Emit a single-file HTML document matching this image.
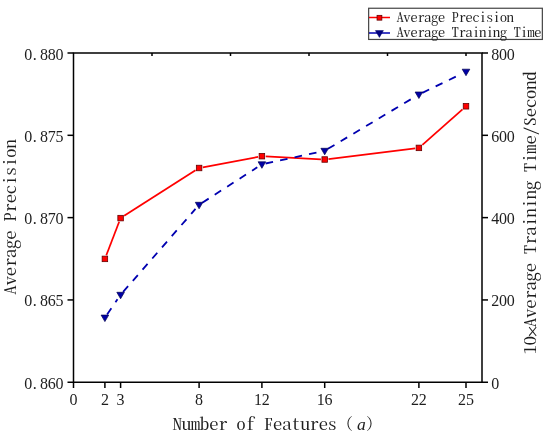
<!DOCTYPE html><html><head><meta charset="utf-8"><style>html,body{margin:0;padding:0;background:#fff;overflow:hidden}svg{display:block}text{fill:#1e1e1e}.lib{font-family:'Liberation Serif',serif}.hw{font-family:'Noto Serif CJK SC',serif;font-feature-settings:'hwid' 1}.cjk{font-family:'Noto Serif CJK SC',serif;font-feature-settings:normal}.it{font-family:'Liberation Serif',serif;font-style:italic;font-feature-settings:normal}.tm{font-family:'Liberation Serif',serif;font-feature-settings:normal}</style></head><body>
<svg width="550" height="436" viewBox="0 0 550 436">
<rect width="550" height="436" fill="#fff"/>
<g stroke="#000" stroke-width="1.5" fill="none">
<path d="M73.50 53.00 H482.00 V382.25 H73.50 Z"/>
<path d="M67.5 382.25 H73.50"/>
<path d="M67.5 299.94 H73.50"/>
<path d="M67.5 217.62 H73.50"/>
<path d="M67.5 135.31 H73.50"/>
<path d="M67.5 53.00 H73.50"/>
<path d="M482.00 382.25 H488"/>
<path d="M482.00 299.94 H488"/>
<path d="M482.00 217.62 H488"/>
<path d="M482.00 135.31 H488"/>
<path d="M482.00 53.00 H488"/>
<path d="M73.50 382.25 V388"/>
<path d="M104.90 382.25 V388"/>
<path d="M120.60 382.25 V388"/>
<path d="M199.10 382.25 V388"/>
<path d="M261.90 382.25 V388"/>
<path d="M324.70 382.25 V388"/>
<path d="M418.90 382.25 V388"/>
<path d="M466.00 382.25 V388"/>
<path d="M152.00 53.00 V56"/>
<path d="M230.50 53.00 V56"/>
<path d="M309.00 53.00 V56"/>
<path d="M387.50 53.00 V56"/>
<path d="M466.00 53.00 V56"/>
</g>
<text class="lib" x="24.30 32.80 39.90 47.70 55.50" y="388.75" font-size="16">0.860</text>
<text class="lib" x="24.30 32.80 39.90 47.70 55.50" y="306.44" font-size="16">0.865</text>
<text class="lib" x="24.30 32.80 39.90 47.70 55.50" y="224.12" font-size="16">0.870</text>
<text class="lib" x="24.30 32.80 39.90 47.70 55.50" y="141.81" font-size="16">0.875</text>
<text class="lib" x="24.30 32.80 39.90 47.70 55.50" y="59.50" font-size="16">0.880</text>
<text class="lib" x="491.20" y="388.75" font-size="16">0</text>
<text class="lib" x="491.20 499.00 506.80" y="306.44" font-size="16">200</text>
<text class="lib" x="491.20 499.00 506.80" y="224.12" font-size="16">400</text>
<text class="lib" x="491.20 499.00 506.80" y="141.81" font-size="16">600</text>
<text class="lib" x="491.20 499.00 506.80" y="59.50" font-size="16">800</text>
<text class="lib" x="69.50" y="405.10" font-size="16">0</text>
<text class="lib" x="100.90" y="405.10" font-size="16">2</text>
<text class="lib" x="116.60" y="405.10" font-size="16">3</text>
<text class="lib" x="195.10" y="405.10" font-size="16">8</text>
<text class="lib" x="254.00 261.80" y="405.10" font-size="16">12</text>
<text class="lib" x="316.80 324.60" y="405.10" font-size="16">16</text>
<text class="lib" x="411.00 418.80" y="405.10" font-size="16">22</text>
<text class="lib" x="458.10 465.90" y="405.10" font-size="16">25</text>
<path d="M106.32 255.22 L119.18 221.78" fill="none" stroke="#ff0000" stroke-width="1.75"/>
<path d="M124.19 215.81 L195.51 170.29" fill="none" stroke="#ff0000" stroke-width="1.75"/>
<path d="M202.83 167.30 L258.17 156.90" fill="none" stroke="#ff0000" stroke-width="1.75"/>
<path d="M265.65 156.40 L320.95 159.30" fill="none" stroke="#ff0000" stroke-width="1.75"/>
<path d="M328.44 159.04 L415.16 148.36" fill="none" stroke="#ff0000" stroke-width="1.75"/>
<path d="M422.40 144.81 L462.50 109.39" fill="none" stroke="#ff0000" stroke-width="1.75"/>
<rect x="102.15" y="256.15" width="5.5" height="5.5" fill="#ff0000" stroke="#600" stroke-width="0.8"/>
<rect x="117.85" y="215.35" width="5.5" height="5.5" fill="#ff0000" stroke="#600" stroke-width="0.8"/>
<rect x="196.35" y="165.25" width="5.5" height="5.5" fill="#ff0000" stroke="#600" stroke-width="0.8"/>
<rect x="259.15" y="153.45" width="5.5" height="5.5" fill="#ff0000" stroke="#600" stroke-width="0.8"/>
<rect x="321.95" y="156.75" width="5.5" height="5.5" fill="#ff0000" stroke="#600" stroke-width="0.8"/>
<rect x="416.15" y="145.15" width="5.5" height="5.5" fill="#ff0000" stroke="#600" stroke-width="0.8"/>
<rect x="463.25" y="103.55" width="5.5" height="5.5" fill="#ff0000" stroke="#600" stroke-width="0.8"/>
<path d="M107.06 314.47 L117.48 299.33" fill="none" stroke="#0000b0" stroke-width="1.8" stroke-dasharray="7.6 7.2"/>
<path d="M123.10 291.94 L195.48 208.94" fill="none" stroke="#0000b0" stroke-width="1.8" stroke-dasharray="7.6 7.2"/>
<path d="M202.29 202.74 L257.28 167.28" fill="none" stroke="#0000b0" stroke-width="1.8" stroke-dasharray="7.6 7.2"/>
<path d="M265.62 163.50 L319.32 151.96" fill="none" stroke="#0000b0" stroke-width="1.8" stroke-dasharray="7.6 7.2"/>
<path d="M327.96 148.85 L414.18 97.32" fill="none" stroke="#0000b0" stroke-width="1.8" stroke-dasharray="7.6 7.2"/>
<path d="M422.32 92.84 L461.05 74.10" fill="none" stroke="#0000b0" stroke-width="1.8" stroke-dasharray="7.6 7.2"/>
<path d="M101.10 315.10 L108.70 315.10 L104.90 321.60 Z" fill="#0000a6" stroke="#000050" stroke-width="0.7"/>
<path d="M116.80 292.30 L124.40 292.30 L120.60 298.80 Z" fill="#0000a6" stroke="#000050" stroke-width="0.7"/>
<path d="M195.30 202.30 L202.90 202.30 L199.10 208.80 Z" fill="#0000a6" stroke="#000050" stroke-width="0.7"/>
<path d="M258.10 161.80 L265.70 161.80 L261.90 168.30 Z" fill="#0000a6" stroke="#000050" stroke-width="0.7"/>
<path d="M320.90 148.30 L328.50 148.30 L324.70 154.80 Z" fill="#0000a6" stroke="#000050" stroke-width="0.7"/>
<path d="M415.10 92.00 L422.70 92.00 L418.90 98.50 Z" fill="#0000a6" stroke="#000050" stroke-width="0.7"/>
<path d="M462.20 69.20 L469.80 69.20 L466.00 75.70 Z" fill="#0000a6" stroke="#000050" stroke-width="0.7"/>
<rect x="368.65" y="8.25" width="173.7" height="31.2" fill="#fff" stroke="#444" stroke-width="1.2"/>
<path d="M369 17.5 H390" stroke="#ff0000" stroke-width="1.5"/>
<rect x="377.05" y="15.35" width="4.8" height="4.8" fill="#ff0000" stroke="#600" stroke-width="0.8"/>
<path d="M369 33 H390" stroke="#0000b0" stroke-width="1.5"/>
<path d="M375.4 30.6 L383.4 30.6 L379.4 37.4 Z" fill="#000080" stroke="#000060" stroke-width="0.5"/>
<g transform="translate(0 21.50) scale(1.080 0.900)"><text class="hw" x="367.12 373.50 379.87 386.24 392.61 398.98 405.35 411.72 418.09 424.46 430.83 437.20 443.57 449.94 456.31 462.68 469.05" y="0" font-size="13.76" font-weight="400">Average Precision</text></g>
<g transform="translate(0 36.50) scale(1.080 0.900)"><text class="hw" x="367.12 373.50 379.87 386.24 392.61 398.98 405.35 411.72 418.09 424.46 430.83 437.20 443.57 449.94 456.31 462.68 469.05 475.42 481.79 488.16 494.53" y="0" font-size="13.76" font-weight="400">Average Training Time</text></g>
<g transform="translate(0 429.70) scale(1.050 0.870)"><text class="hw" x="164.26 172.94 181.63 190.32 199.00 207.69 216.37 225.06 233.74 242.43 251.12 259.80 268.49 277.17 285.86 294.54 303.23 311.92" y="0" font-size="18.24" font-weight="400">Number of Features</text></g>
<text class="cjk" x="337.00 356.94 366.00" y="428.90" font-size="16">（<tspan class="it" y="429.70" font-size="17.6">a</tspan><tspan y="428.90">）</tspan></text>
<g transform="translate(16.00 0) rotate(-90) scale(1.050 0.870)"><text class="hw" x="-280.69 -272.01 -263.32 -254.64 -245.95 -237.26 -228.58 -219.89 -211.21 -202.52 -193.84 -185.15 -176.46 -167.78 -159.09 -150.41 -141.72" y="0" font-size="18.24" font-weight="400">Average Precision</text></g>
<g transform="translate(535.70 0) rotate(-90) scale(1.050 0.870)"><text class="hw" x="-337.65 -328.96 -321.92 -311.59 -302.90 -294.22 -285.53 -276.85 -268.16 -259.47 -250.79 -242.10 -233.42 -224.73 -216.05 -207.36 -198.67 -189.99 -181.30 -172.62 -163.93 -155.25 -146.56 -137.87 -129.19 -120.50 -111.82 -103.13 -94.45 -85.76 -77.07" y="0" font-size="18.24" font-weight="400">10<tspan class="tm" y="3.60" font-size="22" font-weight="400">×</tspan><tspan y="0">Average Training Time/Second</tspan></text></g>
</svg></body></html>
